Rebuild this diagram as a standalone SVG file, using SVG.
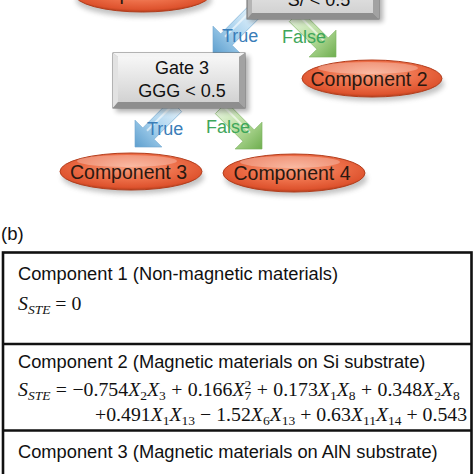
<svg xmlns="http://www.w3.org/2000/svg" width="474" height="474" viewBox="0 0 474 474">
<style>
.sans{font-family:"Liberation Sans",Arial,sans-serif}
.gt{font-size:18px;fill:#111;text-anchor:middle}
.ct{font-size:19.5px;fill:#2a1810;text-anchor:middle}
.tl{font-size:18px;fill:#3a7db8}
.fl{font-size:18px;fill:#3ea65a}
.row{font-size:18.3px;fill:#111}
.m{font-family:"Liberation Serif","Times New Roman",serif;font-size:19.8px;fill:#111}
.i{font-style:italic}
.s{font-size:13.5px}
.face{fill:url(#gface)}
.edge{fill:#b5b5b5;stroke:#6e6e6e;stroke-width:1}
.bt{fill:#f4f4f4}
.bl{fill:#e2e2e2}
.bb{fill:#8e8e8e}
.br{fill:#a2a2a2}
.ell{fill:url(#gell);stroke:#b33d1c;stroke-width:1}
.esh{fill:#7a7a7a;opacity:.45;filter:url(#blur)}
.bsh{fill:#000;opacity:.3;filter:url(#blur)}
.hl{fill:#fff;opacity:.28}
</style>
<defs>
<filter id="blur" x="-20%" y="-40%" width="140%" height="180%"><feGaussianBlur stdDeviation="2.5"/></filter>
<linearGradient id="gface" x1="0" y1="0" x2="0" y2="1"><stop offset="0" stop-color="#f6f6f6"/><stop offset="1" stop-color="#d2d2d2"/></linearGradient>
<radialGradient id="gell" cx="50%" cy="38%" r="62%"><stop offset="0" stop-color="#f7a283"/><stop offset=".55" stop-color="#ec6d47"/><stop offset=".88" stop-color="#de532e"/><stop offset="1" stop-color="#b53e1c"/></radialGradient>
<linearGradient id="gblue" x1="0" y1="0" x2="0" y2="1"><stop offset="0" stop-color="#e4f2fb"/><stop offset=".5" stop-color="#a8d2ee"/><stop offset="1" stop-color="#5e9fce"/></linearGradient>
<linearGradient id="ggreen" x1="0" y1="0" x2="0" y2="1"><stop offset="0" stop-color="#e6f4dc"/><stop offset=".5" stop-color="#b6dc9c"/><stop offset="1" stop-color="#6fae4f"/></linearGradient>
<path id="arr" d="M-8,-58 L8,-58 L8,-19 L19,-19 L0,0 L-19,-19 L-8,-19 Z"/>
</defs>

<g id="connectors">
<g transform="translate(213,53) rotate(45)"><use href="#arr" fill="url(#gblue)" stroke="#6fa6cf" stroke-width=".6"/><path d="M-3,-56 L-3,-20" stroke="#fff" stroke-width="2" opacity=".6"/></g>
<g transform="translate(336,57) rotate(-45)"><use href="#arr" fill="url(#ggreen)" stroke="#7ab25e" stroke-width=".6"/><path d="M3,-56 L3,-20" stroke="#fff" stroke-width="2" opacity=".6"/></g>
<g transform="translate(135,147) rotate(45)"><use href="#arr" fill="url(#gblue)" stroke="#6fa6cf" stroke-width=".6"/><path d="M-3,-56 L-3,-20" stroke="#fff" stroke-width="2" opacity=".6"/></g>
<g transform="translate(262,149) rotate(-45)"><use href="#arr" fill="url(#ggreen)" stroke="#7ab25e" stroke-width=".6"/><path d="M3,-56 L3,-20" stroke="#fff" stroke-width="2" opacity=".6"/></g>
<text class="sans tl" x="222" y="42">True</text>
<text class="sans fl" x="282" y="43">False</text>
<text class="sans tl" x="147" y="135">True</text>
<text class="sans fl" x="206" y="133">False</text>
</g>

<g id="component1">
<ellipse class="esh" cx="144" cy="0" rx="68" ry="17"/>
<ellipse class="ell" cx="142.5" cy="-6" rx="68" ry="18"/>
<text class="sans ct" x="137" y="0">Component 1</text>
</g>

<g id="gate2">
<rect class="bsh" x="250" y="-36" width="133" height="58"/>
<rect class="edge" x="247" y="-38" width="132" height="57"/>
<polygon class="bb" points="247,19 379,19 373,13 252,13"/>
<polygon class="br" points="379,-38 379,19 373,13 373,-34"/>
<rect class="face" x="252" y="-34" width="121" height="47"/>
<text class="sans gt" x="319" y="5.5">S/ &lt; 0.5</text>
</g>

<g id="gate3">
<rect class="bsh" x="116" y="56" width="133" height="56"/>
<rect class="edge" x="113" y="53" width="132" height="55"/>
<polygon class="bt" points="113,53 245,53 239,57 118,57"/>
<polygon class="bl" points="113,53 118,57 118,102 113,108"/>
<polygon class="bb" points="113,108 245,108 239,102 118,102"/>
<polygon class="br" points="245,53 245,108 239,102 239,57"/>
<rect class="face" x="118" y="57" width="121" height="45"/>
<text class="sans gt" x="182" y="74">Gate 3</text>
<text class="sans gt" x="182" y="97">GGG &lt; 0.5</text>
</g>

<g id="component2">
<ellipse class="esh" cx="374" cy="84" rx="70" ry="17"/>
<ellipse class="ell" cx="372" cy="78.5" rx="70" ry="18.5"/>
<ellipse class="hl" cx="368" cy="68" rx="50" ry="6"/>
<text class="sans ct" x="369" y="85.5">Component 2</text>
</g>

<g id="component3">
<ellipse class="esh" cx="133" cy="177" rx="71" ry="17"/>
<ellipse class="ell" cx="131" cy="171.5" rx="71" ry="18.5"/>
<ellipse class="hl" cx="127" cy="161" rx="50" ry="6"/>
<text class="sans ct" x="128.5" y="178.5">Component 3</text>
</g>

<g id="component4">
<ellipse class="esh" cx="296" cy="179" rx="71" ry="17"/>
<ellipse class="ell" cx="294" cy="173" rx="71" ry="19"/>
<ellipse class="hl" cx="290" cy="162" rx="50" ry="6"/>
<text class="sans ct" x="292" y="180">Component 4</text>
</g>

<text class="sans" x="1" y="240" font-size="18.5" fill="#111">(b)</text>

<g id="table">
<rect x="3" y="252.5" width="468.5" height="240" fill="none" stroke="#111" stroke-width="2.6"/>
<line x1="3" y1="344" x2="471.5" y2="344" stroke="#111" stroke-width="2.6"/>
<line x1="3" y1="430.5" x2="471.5" y2="430.5" stroke="#111" stroke-width="2.6"/>
<text class="sans row" x="18" y="280">Component 1 (Non-magnetic materials)</text>
<text class="m" x="18" y="310"><tspan class="i">S</tspan><tspan class="i s" dy="3.5">STE</tspan><tspan dy="-3.5"> = 0</tspan></text>
<text class="sans row" x="18" y="368">Component 2 (Magnetic materials on Si substrate)</text>
<text class="m" x="18" y="396" word-spacing="0.5"><tspan class="i">S</tspan><tspan class="i s" dy="3.5">STE</tspan><tspan dy="-3.5"> = −0.754</tspan><tspan class="i">X</tspan><tspan class="s" dy="3.5">2</tspan><tspan class="i" dy="-3.5">X</tspan><tspan class="s" dy="3.5">3</tspan><tspan dy="-3.5"> + 0.166</tspan><tspan class="i">X</tspan><tspan class="s" dy="-7">2</tspan><tspan class="s" dx="-6.75" dy="10.5">7</tspan><tspan dy="-3.5"> + 0.173</tspan><tspan class="i">X</tspan><tspan class="s" dy="3.5">1</tspan><tspan class="i" dy="-3.5">X</tspan><tspan class="s" dy="3.5">8</tspan><tspan dy="-3.5"> + 0.348</tspan><tspan class="i">X</tspan><tspan class="s" dy="3.5">2</tspan><tspan class="i" dy="-3.5">X</tspan><tspan class="s" dy="3.5">8</tspan></text>
<text class="m" x="95" y="421" font-size="19.5"><tspan>+0.491</tspan><tspan class="i">X</tspan><tspan class="s" dy="3.5">1</tspan><tspan class="i" dy="-3.5">X</tspan><tspan class="s" dy="3.5">13</tspan><tspan dy="-3.5"> − 1.52</tspan><tspan class="i">X</tspan><tspan class="s" dy="3.5">6</tspan><tspan class="i" dy="-3.5">X</tspan><tspan class="s" dy="3.5">13</tspan><tspan dy="-3.5"> + 0.63</tspan><tspan class="i">X</tspan><tspan class="s" dy="3.5">11</tspan><tspan class="i" dy="-3.5">X</tspan><tspan class="s" dy="3.5">14</tspan><tspan dy="-3.5"> + 0.543</tspan></text>
<text class="sans row" x="18" y="458">Component 3 (Magnetic materials on AlN substrate)</text>
</g>
</svg>
